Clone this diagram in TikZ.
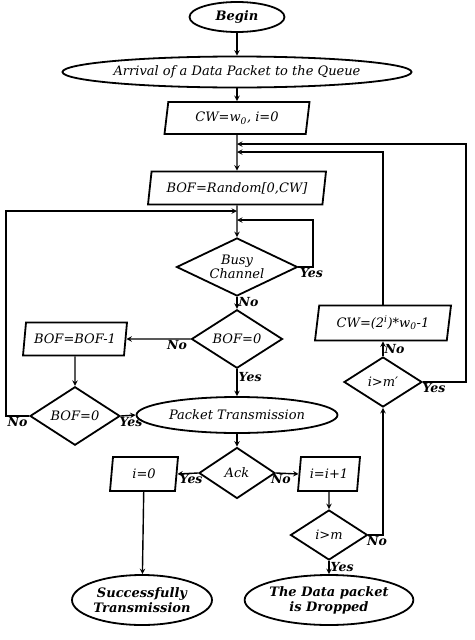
\documentclass[tikz,border=0pt]{standalone}
\usepackage{amsmath, tikz}
\usepackage{fontspec}
\setmainfont{DejaVu Serif}
\usetikzlibrary{shapes.geometric}
\tikzset{>=stealth}
\tikzset{
	term/.style = {ellipse, draw, line width=1.8pt, inner sep=0pt, font=\fontsize{13}{15}\selectfont\itshape},
	proc/.style = {trapezium, trapezium left angle=73, trapezium right angle=107, trapezium stretches body, draw, line width=1.8pt, inner sep=0pt, font=\fontsize{13}{15}\selectfont\itshape},
	decide/.style = {diamond, draw, line width=1.8pt, inner sep=0pt, align=center, font=\fontsize{13}{14}\selectfont\itshape},
	lbl/.style = {inner sep=1pt, font=\fontsize{12.5}{14}\selectfont\bfseries\itshape}
}

\begin{document}
\begin{tikzpicture}[x=1pt, y=-1pt, line width=1.4pt]
	\useasboundingbox (0,0) rectangle (474,640);
	% terminals and boxes
	\node[term, minimum width=95pt, minimum height=30pt] (begin) at (237,17) {\bfseries Begin};
	\node[term, minimum width=337pt, minimum height=31pt] (arrival) at (237,72) {Arrival of a Data Packet to the Queue};
	\node[proc, minimum width=145pt, minimum height=32pt] (init) at (237,118) {CW=w\textsubscript{0}, i=0};
	\node[proc, minimum width=178pt, minimum height=33pt] (random) at (237,188) {BOF=Random[0,CW]};
	\node[decide, aspect=2.1, minimum width=121pt, minimum height=58pt] (busy) at (237,267) {Busy\\Channel};
	\node[decide, minimum width=91pt, minimum height=52pt] (bofz) at (237,339) {BOF=0};
	\node[proc, minimum width=104pt, minimum height=33pt] (dec) at (75,339) {BOF=BOF-1};
	\node[decide, minimum width=90pt, minimum height=52pt] (bofzb) at (75,416) {BOF=0};
	\node[term, minimum width=201pt, minimum height=36pt] (tx) at (237,415) {Packet Transmission};
	\node[decide, minimum width=76pt, minimum height=51pt] (ack) at (237,473) {Ack};
	\node[proc, minimum width=68pt, minimum height=34pt] (reset) at (144,474) {i=0};
	\node[proc, minimum width=62pt, minimum height=34pt] (inc) at (329,474) {i=i+1};
	\node[decide, minimum width=77pt, minimum height=50pt] (igm) at (329,535) {i>m};
	\node[decide, minimum width=78pt, minimum height=50pt] (igmp) at (383,382) {i>m′};
	\node[proc, minimum width=136pt, minimum height=35pt] (cwup) at (383,323) {CW=(2\textsuperscript{i})*w\textsubscript{0}-1};
	\node[term, minimum width=140pt, minimum height=50pt, align=center] (succ) at (142,600) {\bfseries Successfully\\\bfseries Transmission};
	\node[term, minimum width=138pt, minimum height=50pt, align=center] (drop) at (329,600) {\bfseries The Data packet\\\bfseries is Dropped};

	% junctions on the main line
	\coordinate (j1) at (237,144);
	\coordinate (j2) at (237,152);
	\coordinate (j3) at (237,211);
	\coordinate (j4) at (237,220);
	\coordinate (outer) at (466,144);
	\coordinate (left) at (6,211);
	\coordinate (loop) at (313,220);

	% main flow
	\draw[->] (begin) -- (arrival);
	\draw[->] (arrival) -- (init);
	\draw[->] (init) -- (random);
	\draw[->] (random) -- (busy);
	\draw[->] (busy) -- node[lbl, right, pos=0.45] {No} (bofz);
	\draw[->] (bofz) -- node[lbl, right, pos=0.3] {Yes} (tx);
	\draw[->] (tx) -- (ack);

	% back-off branch
	\draw[->] (busy.east) node[lbl, anchor=north west] {Yes} -| (loop) -- (j4);
	\draw[->] (bofz.west) node[lbl, anchor=north east, xshift=-2pt] {No} -- (dec.east);
	\draw[->] (dec) -- (bofzb);
	\draw[->] (bofzb.east) node[lbl, anchor=north west, xshift=-3pt] {Yes} -- (tx.west);
	\draw[->] (bofzb.west) node[lbl, anchor=north east] {No} -| (left) -- (j3);

	% acknowledgement branch
	\draw[->] (ack.west) node[lbl, anchor=north, xshift=-7pt] {Yes} -- (reset.east);
	\draw[->] (ack.east) node[lbl, anchor=north, xshift=5pt] {No} -- (inc.west);
	\draw[->] (reset) -- (succ);
	\draw[->] (inc) -- (igm);
	\draw[->] (igm) -- node[lbl, right, pos=0.45] {Yes} (drop);
	\draw[->] (igm.east) node[lbl, anchor=north west, xshift=-3pt] {No} -| (igmp.south);
	\draw[->] (igmp) -- node[lbl, right, pos=0.45] {No} (cwup);
	\draw[->] (cwup.north) |- (j2);
	\draw[->] (igmp.east) node[lbl, anchor=north west, xshift=-2pt] {Yes} -| (outer) -- (j1);
\end{tikzpicture}
\end{document}
